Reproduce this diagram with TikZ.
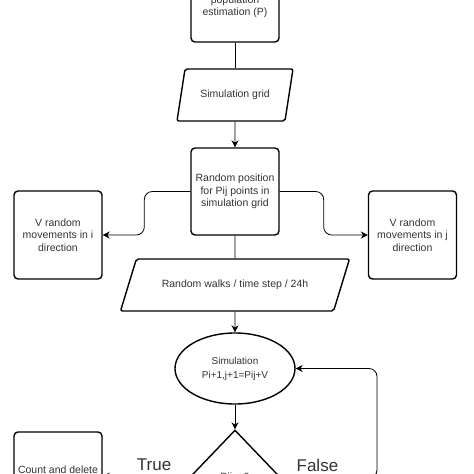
\documentclass[tikz,border=0pt]{standalone}
\usepackage{fontspec}
\setmainfont{Liberation Sans}
\usetikzlibrary{shapes.geometric,arrows.meta}
\definecolor{txt}{HTML}{333333}
\begin{document}
\begin{tikzpicture}[x=1pt,y=-1pt,
    box/.style={draw,line width=1.4pt,rounded corners=4pt,minimum width=88pt,minimum height=88pt,align=center,text=txt,font=\fontsize{10.5}{12.5}\selectfont},
    io/.style={draw,line width=1.4pt,rounded corners=2pt,trapezium,trapezium stretches body,minimum height=52pt,text=txt,font=\fontsize{10.5}{12.5}\selectfont},
    link/.style={line width=0.8pt},
    arr/.style={link,-{Stealth[length=7pt,width=7pt]}},
    tag/.style={above=3pt,font=\fontsize{17}{17}\selectfont,text=txt}]
      \clip (0,0) rectangle (474,474);
      \node[box,minimum height=70pt](est) at(235,7) {population\\estimation (P)};
      \node[io,trapezium left angle=64,trapezium right angle=116,minimum width=116pt](grid) at(235,95) {Simulation grid};
      \node[box,minimum height=87pt](pos) at(235,191.5) {Random position\\for Pij points in\\simulation grid};
      \foreach \n/\x/\d in {mi/58/i, mj/412.5/j}{
        \node[box](\n) at(\x,235) {V random\\movements in \d\\direction};
      }
      \node[io,trapezium left angle=46,trapezium right angle=134,minimum width=229pt](walk) at(235,285) {Random walks / time step / 24h};
      \node[draw,ellipse,line width=1.4pt,minimum width=120pt,minimum height=71pt,align=center,text=txt,font=\fontsize{10}{14}\selectfont](sim) at(235,368.5) {Simulation\\Pi+1,j+1=Pij+V};
      \node[draw,diamond,line width=1.4pt,minimum width=92pt,minimum height=96pt,text=txt,font=\fontsize{10.5}{12.5}\selectfont](test) at(235,478) {Pij ≤ 0};
      \node[box](count) at(58,476) {Count and delete\\\phantom{x}};
      \coordinate (back) at(377,478);
      \draw[link](est)--(grid);
      \draw[arr](grid)--(pos);
      \draw[arr,rounded corners=8pt](pos.west)--++(-46,0)|-(mi.east);
      \draw[arr,rounded corners=8pt](pos.east)--++(44,0)|-(mj.west);
      \draw[link](pos)--(walk);
      \draw[arr](walk)--(sim);
      \draw[arr](sim)--(test);
      \draw[arr](test.west)--node[tag,pos=0.4]{True}(count.east);
      \draw[arr,rounded corners=8pt](test.east)--node[tag,pos=0.375]{False}(back)|-(sim.east);
    \end{tikzpicture}
\end{document}
